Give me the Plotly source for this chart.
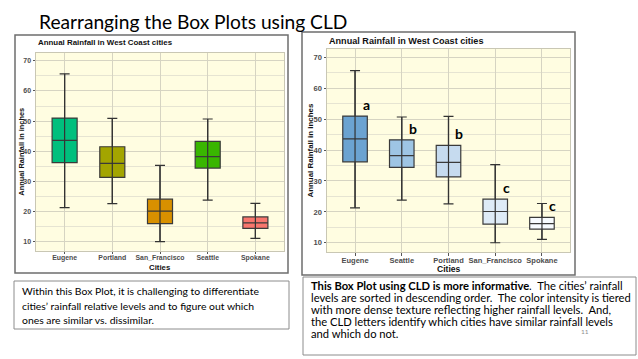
import plotly.graph_objects as go

W, H = 638, 359

# ---------------- data ----------------
cities = ["Eugene", "Portland", "San_Francisco", "Seattle", "Spokane"]
low = [21.3, 22.6, 10.0, 23.8, 11.1]
q1 = [36.2, 31.3, 16.0, 34.4, 14.4]
median = [43.6, 36.0, 20.1, 38.2, 16.2]
q3 = [51.0, 41.5, 24.1, 43.3, 18.2]
high = [65.7, 50.9, 35.3, 50.7, 22.7]

hue_colors = ["#00BF7D", "#A3A500", "#D89000", "#39B600", "#F8766D"]

cld_order = ["Eugene", "Seattle", "Portland", "San_Francisco", "Spokane"]
cld_letters = ["a", "b", "b", "c", "c"]
blue_colors = ["#6BA3D1", "#9EC5E4", "#C6DBEF", "#DEEBF7", "#F7FBFF"]

y_ticks = [10, 20, 30, 40, 50, 60, 70]

slide_title = "Rearranging the Box Plots using CLD"
chart_title = "Annual Rainfall in West Coast cities"
y_title = "Annual Rainfall in inches"
x_title = "Cities"
left_text = [
    "Within this Box Plot, it is challenging to differentiate",
    "cities’ rainfall relative levels and to figure out which",
    "ones are similar vs. dissimilar.",
]
right_text = [
    "<b>This Box Plot using CLD is more informative</b>.&nbsp; The cities’ rainfall",
    "levels are sorted in descending order.&nbsp; The color intensity is tiered",
    "with more dense texture reflecting higher rainfall levels.&nbsp; And,",
    "the CLD letters identify which cities have similar rainfall levels",
    "and which do not.",
]
page_no = "11"

# ---------------- helpers ----------------
def px(x):
    return x / W


def py(y):
    return 1 - y / H


idx = {c: i for i, c in enumerate(cities)}

fig = go.Figure()

BOX_LINE = "#3A3A3A"
WHISK = "#333333"

# left chart
for i, c in enumerate(cities):
    fig.add_trace(go.Box(
        x=[c], q1=[q1[i]], median=[median[i]], q3=[q3[i]],
        lowerfence=[low[i]], upperfence=[high[i]],
        fillcolor=hue_colors[i], line=dict(color=BOX_LINE, width=1.2),
        whiskerwidth=0, boxpoints=False, showlegend=False, hoverinfo="skip",
        xaxis="x", yaxis="y",
    ))
fig.add_trace(go.Scatter(
    x=cities, y=median, mode="markers",
    marker=dict(size=1, color="rgba(0,0,0,0)"),
    error_y=dict(type="data", symmetric=False,
                 array=[h - m for h, m in zip(high, median)],
                 arrayminus=[m - l for m, l in zip(median, low)],
                 width=5, thickness=1.2, color=WHISK),
    showlegend=False, hoverinfo="skip", xaxis="x", yaxis="y",
))

# right chart (CLD ordering)
for j, c in enumerate(cld_order):
    i = idx[c]
    fig.add_trace(go.Box(
        x=[c], q1=[q1[i]], median=[median[i]], q3=[q3[i]],
        lowerfence=[low[i]], upperfence=[high[i]],
        fillcolor=blue_colors[j], line=dict(color=BOX_LINE, width=1.2),
        whiskerwidth=0, boxpoints=False, showlegend=False, hoverinfo="skip",
        xaxis="x2", yaxis="y2",
    ))
fig.add_trace(go.Scatter(
    x=cld_order, y=[median[idx[c]] for c in cld_order], mode="markers",
    marker=dict(size=1, color="rgba(0,0,0,0)"),
    error_y=dict(type="data", symmetric=False,
                 array=[high[idx[c]] - median[idx[c]] for c in cld_order],
                 arrayminus=[median[idx[c]] - low[idx[c]] for c in cld_order],
                 width=5, thickness=1.2, color=WHISK),
    showlegend=False, hoverinfo="skip", xaxis="x2", yaxis="y2",
))

GRID = "#D6D4C2"
MINOR = "#E6E4D2"
FRAME = "#C9C7B4"
TICKC = "#4D4D4D"
AX_FONT = "Liberation Sans"


def xax(domain, cats, size, anchor):
    return dict(domain=domain, anchor=anchor, type="category", categoryorder="array",
                categoryarray=cats, range=[-0.6, 4.6],
                showgrid=True, gridcolor=GRID, gridwidth=1,
                ticks="outside", ticklen=2.5, tickcolor="#555", ticklabelstandoff=-2,
                tickfont=dict(family=AX_FONT, size=size, color=TICKC, weight="bold"),
                showline=True, mirror=True, linecolor=FRAME, linewidth=1,
                zeroline=False, fixedrange=True)


def yax(domain, anchor, size):
    return dict(domain=domain, anchor=anchor, range=[7.0, 72.7],
                tickvals=y_ticks, showgrid=True, gridcolor=GRID, gridwidth=1,
                minor=dict(dtick=5, tick0=5, showgrid=True, gridcolor=MINOR, gridwidth=0.8),
                ticks="outside", ticklen=2.5, tickcolor="#555",
                tickfont=dict(family=AX_FONT, size=size, color=TICKC, weight="bold"),
                showline=True, mirror=True, linecolor=FRAME, linewidth=1,
                zeroline=False, fixedrange=True)


L = dict(x0=36, x1=284, y0=52.7, y1=250.7)
R = dict(x0=327, x1=570, y0=49, y1=252)

fig.update_layout(
    width=W, height=H, margin=dict(l=0, r=0, t=0, b=0),
    paper_bgcolor="white", plot_bgcolor="#FFFDE1",
    boxmode="overlay", boxgap=0.25,
    xaxis=xax([px(L["x0"]), px(L["x1"])], cities, 6.9, "y"),
    yaxis=yax([py(L["y1"]), py(L["y0"])], "x", 7.0),
    xaxis2=xax([px(R["x0"]), px(R["x1"])], cld_order, 7.5, "y2"),
    yaxis2=yax([py(R["y1"]), py(R["y0"])], "x2", 7.6),
)


# frames
def rect(x0, y0, x1, y1, color, width):
    fig.add_shape(type="rect", xref="paper", yref="paper",
                  x0=px(x0), x1=px(x1), y0=py(y1), y1=py(y0),
                  line=dict(color=color, width=width), fillcolor="rgba(0,0,0,0)",
                  layer="above")


rect(15, 35, 288, 273, "#6E6E6E", 1.5)
rect(302, 32, 575, 275, "#6E6E6E", 1.5)
rect(14, 281, 289, 329, "#8C8C8C", 1)
rect(303, 277, 636, 355, "#8C8C8C", 1)

ann = []
BODY = "Lato"
ann.append(dict(text=slide_title, x=px(37), y=py(21), xanchor="left", yanchor="middle",
                font=dict(family=BODY, size=19.2, color="#000")))
# chart titles
ann.append(dict(text="<b>" + chart_title + "</b>", x=px(36), y=py(43), xanchor="left",
                yanchor="middle", font=dict(family=AX_FONT, size=7.9, color="#111")))
ann.append(dict(text="<b>" + chart_title + "</b>", x=px(327), y=py(41), xanchor="left",
                yanchor="middle", font=dict(family=AX_FONT, size=9.1, color="#111")))
# axis titles
ann.append(dict(text="<b>" + y_title + "</b>", x=px(22), y=py(151.7), textangle=-90,
                xanchor="center", yanchor="middle", font=dict(family=AX_FONT, size=7.4, color="#111")))
ann.append(dict(text="<b>" + y_title + "</b>", x=px(310), y=py(150.5), textangle=-90,
                xanchor="center", yanchor="middle", font=dict(family=AX_FONT, size=7.9, color="#111")))
ann.append(dict(text="<b>" + x_title + "</b>", x=px(160), y=py(267), xanchor="center",
                yanchor="middle", font=dict(family=AX_FONT, size=7.8, color="#111")))
ann.append(dict(text="<b>" + x_title + "</b>", x=px(448.5), y=py(268.5), xanchor="center",
                yanchor="middle", font=dict(family=AX_FONT, size=8.6, color="#111")))
# text boxes
for k, line in enumerate(left_text):
    ann.append(dict(text=line, x=px(20), y=py(291 + 14.5 * k), xanchor="left", yanchor="middle",
                    font=dict(family=BODY, size=10.4, color="#000")))
for k, line in enumerate(right_text):
    ann.append(dict(text=line, x=px(309), y=py(285 + 12 * k), xanchor="left", yanchor="middle",
                    font=dict(family=BODY, size=11.2, color="#000")))
ann.append(dict(text=page_no, x=px(585), y=py(331), xanchor="center", yanchor="middle",
                font=dict(family=BODY, size=6.5, color="#8C8C8C")))
for a in ann:
    a.update(xref="paper", yref="paper", showarrow=False)
    fig.add_annotation(**a)

# CLD letters
for c, letter in zip(cld_order, cld_letters):
    fig.add_annotation(text="<b>" + letter + "</b>", x=c, y=q3[idx[c]], xref="x2", yref="y2",
                       xanchor="center", yanchor="bottom", xshift=11, yshift=1,
                       showarrow=False, font=dict(family=BODY, size=14, color="#000"))

fig.write_html("out.html", config={"displayModeBar": False},
               post_script="document.body.style.margin='0';")
